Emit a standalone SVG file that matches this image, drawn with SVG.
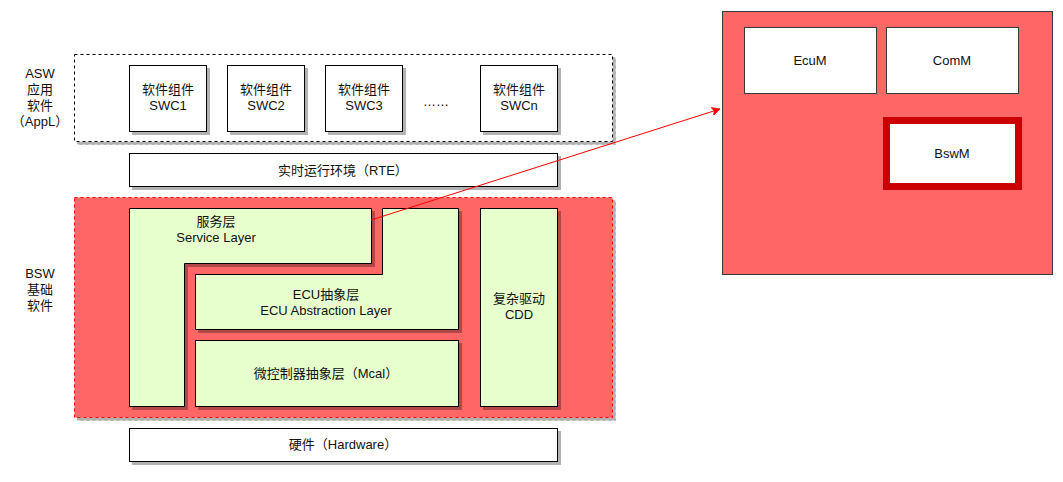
<svg xmlns="http://www.w3.org/2000/svg" width="1063" height="482" viewBox="0 0 1063 482">
<style>
text{font-family:"Liberation Sans","Noto Sans CJK SC",sans-serif;font-size:13px;fill:#111;text-anchor:middle;dominant-baseline:central}
.box{fill:#fff;stroke:#000;stroke-width:1}
.grn{fill:#E6FFCC;stroke:#000;stroke-width:1}
.sh{filter:url(#shadow)}
</style>
<defs>
<filter id="shadow" x="-10%" y="-10%" width="130%" height="130%">
<feDropShadow dx="3" dy="3" stdDeviation="0.6" flood-color="#000" flood-opacity="0.3"/>
</filter>
<marker id="arr" markerWidth="10" markerHeight="10" refX="8" refY="4" orient="auto" markerUnits="userSpaceOnUse">
<path d="M0,0 L8,4 L0,8 L2,4 Z" fill="#FF0000" stroke="#FF0000" stroke-width="0.8"/>
</marker>
</defs>

<g id="asw-label">
<text x="40" y="73">ASW</text>
<text x="40" y="89">应用</text>
<text x="40" y="105">软件</text>
<text x="40" y="121">（AppL）</text>
</g>
<g id="bsw-label">
<text x="40" y="273">BSW</text>
<text x="40" y="289">基础</text>
<text x="40" y="305">软件</text>
</g>

<g id="asw" class="sh">
<rect x="74.5" y="54.5" width="538" height="87" fill="#fff" stroke="#000" stroke-dasharray="3 3"/>
</g>
<g id="swc1" class="sh"><rect class="box" x="129.5" y="65.5" width="77" height="66"/></g>
<text x="168" y="89">软件组件</text><text x="168" y="105">SWC1</text>
<g id="swc2" class="sh"><rect class="box" x="227.5" y="65.5" width="77" height="66"/></g>
<text x="266" y="89">软件组件</text><text x="266" y="105">SWC2</text>
<g id="swc3" class="sh"><rect class="box" x="325.5" y="65.5" width="77" height="66"/></g>
<text x="364" y="89">软件组件</text><text x="364" y="105">SWC3</text>
<g id="dots"><text x="436" y="101">……</text></g>
<g id="swcn" class="sh"><rect class="box" x="480.5" y="65.5" width="77" height="66"/></g>
<text x="519" y="89">软件组件</text><text x="519" y="105">SWCn</text>

<g id="rte" class="sh"><rect class="box" x="129.5" y="153.5" width="428" height="33"/></g>
<text x="343" y="170">实时运行环境（RTE）</text>

<g id="bsw" class="sh">
<rect x="74.5" y="197.5" width="538" height="220" fill="#FF6666" stroke="#FF0000" stroke-dasharray="3 3"/>
</g>
<g id="service" class="sh">
<polygon class="grn" points="129.5,208.5 371.5,208.5 371.5,263.5 184.5,263.5 184.5,406.5 129.5,406.5"/>
</g>
<text x="216" y="221">服务层</text><text x="216" y="237">Service Layer</text>
<g id="ecu" class="sh">
<polygon class="grn" points="382.5,208.5 458.5,208.5 458.5,329.5 195.5,329.5 195.5,274.5 382.5,274.5"/>
</g>
<text x="326" y="294">ECU抽象层</text><text x="326" y="310">ECU Abstraction Layer</text>
<g id="mcal" class="sh"><rect class="grn" x="195.5" y="340.5" width="263" height="66"/></g>
<text x="326" y="373">微控制器抽象层（Mcal）</text>
<g id="cdd" class="sh"><rect class="grn" x="480.5" y="208.5" width="77" height="198"/></g>
<text x="519" y="298">复杂驱动</text><text x="519" y="314">CDD</text>

<g id="hw" class="sh"><rect class="box" x="129.5" y="428.5" width="428" height="33"/></g>
<text x="343" y="444">硬件（Hardware）</text>

<g id="bswm-container">
<rect x="722.5" y="11.5" width="330" height="263" fill="#FF6666" stroke="#36393d"/>
</g>
<g id="ecum"><rect x="744.5" y="27.5" width="132" height="66" fill="#fff" stroke="#36393d"/><text x="810" y="60">EcuM</text></g>
<g id="comm"><rect x="886.5" y="27.5" width="132" height="66" fill="#fff" stroke="#36393d"/><text x="952" y="60">ComM</text></g>
<g id="bswm"><rect x="886.5" y="120.5" width="132" height="66" fill="#fff" stroke="#CC0000" stroke-width="7"/><text x="952" y="153">BswM</text></g>

<g id="connectors">
<line x1="371" y1="220" x2="720" y2="109" stroke="#FF0000" stroke-width="1" marker-end="url(#arr)"/>
</g>
</svg>
